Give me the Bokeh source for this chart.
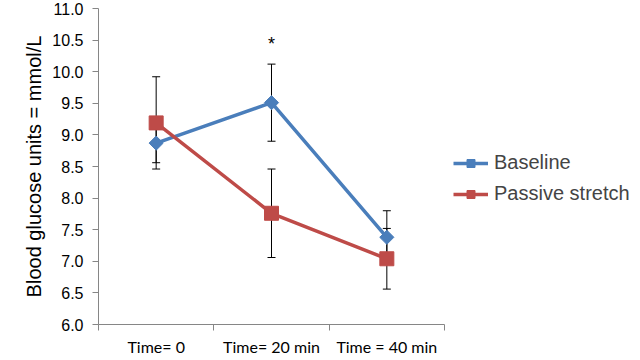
import math
from bokeh.plotting import figure
from bokeh.models import (FixedTicker, Range1d, Whisker, ColumnDataSource, Legend,
                          LegendItem, TeeHead, NumeralTickFormatter)
from bokeh.core.properties import value
from bokeh.embed import file_html
from bokeh.resources import INLINE

categories = ["Time= 0", "Time= 20 min", "Time = 40 min"]
baseline = [8.87, 9.51, 7.38]
baseline_err = [0.31, 0.61, 0.42]
passive = [9.19, 7.76, 7.04]
passive_err = [0.73, 0.70, 0.48]
y_ticks = [6.0, 6.5, 7.0, 7.5, 8.0, 8.5, 9.0, 9.5, 10.0, 10.5, 11.0]
star_pos = (1, 10.44)

xc = [i + 0.5 for i in range(len(categories))]
BLUE = "#4A7EBB"
RED = "#BE4B48"
GRAY = "#868686"
n = len(categories)

p = figure(width=640, height=360, output_backend="svg", toolbar_location=None,
           x_range=Range1d(0, n * 542 / 346), y_range=Range1d(y_ticks[0], y_ticks[-1]),
           min_border_left=98, min_border_right=0, min_border_top=8, min_border_bottom=36)
p.outline_line_color = None
p.xgrid.visible = False
p.ygrid.visible = False

def src(vals, errs):
    return ColumnDataSource(dict(x=xc, y=vals,
                                 lo=[v - e for v, e in zip(vals, errs)],
                                 hi=[v + e for v, e in zip(vals, errs)]))

sb = src(baseline, baseline_err)
sp = src(passive, passive_err)

for s in (sb, sp):
    w = Whisker(source=s, base="x", upper="hi", lower="lo", line_color="black", line_width=1,
                upper_head=TeeHead(size=8, line_color="black", line_width=1),
                lower_head=TeeHead(size=8, line_color="black", line_width=1))
    p.add_layout(w)

lb = p.line("x", "y", source=sb, line_color=BLUE, line_width=3.5)
mb = p.scatter("x", "y", source=sb, marker="square", angle=math.pi / 4, size=10,
               fill_color=BLUE, line_color=BLUE)
lp = p.line("x", "y", source=sp, line_color=RED, line_width=3.5)
mp = p.scatter("x", "y", source=sp, marker="square", size=14, fill_color=RED, line_color=RED)

p.text(x=[xc[star_pos[0]]], y=[star_pos[1]], text=["*"], text_align="center",
       text_baseline="alphabetic", text_font=value("Liberation Sans"),
       text_font_size="18px", text_color="black")

legend = Legend(items=[LegendItem(label="Baseline", renderers=[lb, mb]),
                       LegendItem(label="Passive stretch", renderers=[lp, mp])],
                location=(355, 119), border_line_color=None, background_fill_alpha=0,
                label_text_font="Liberation Sans", label_text_font_size="20px",
                glyph_width=35, glyph_height=20, label_height=20, label_standoff=6,
                spacing=8, padding=0, margin=0)
p.add_layout(legend)

p.yaxis.ticker = FixedTicker(ticks=y_ticks)
p.yaxis.formatter = NumeralTickFormatter(format="0.0")
p.yaxis.axis_line_color = GRAY
p.yaxis.major_tick_line_color = GRAY
p.yaxis.major_tick_out = 6
p.yaxis.major_tick_in = 0
p.yaxis.minor_tick_line_color = None
p.yaxis.major_label_text_font = "Liberation Sans"
p.yaxis.major_label_text_font_size = "16px"
p.yaxis.major_label_text_color = "black"
p.yaxis.major_label_standoff = 9
p.yaxis.axis_label = "Blood glucose units = mmol/L"
p.yaxis.axis_label_text_font = "Liberation Sans"
p.yaxis.axis_label_text_font_size = "20px"
p.yaxis.axis_label_text_font_style = "normal"
p.yaxis.axis_label_text_color = "black"
p.yaxis.axis_label_standoff = 4

p.xaxis.bounds = (0, n)
p.xaxis.ticker = FixedTicker(ticks=xc, minor_ticks=list(range(n + 1)))
p.xaxis.major_label_overrides = {x: c for x, c in zip(xc, categories)}
p.xaxis.axis_line_color = GRAY
p.xaxis.major_tick_line_color = None
p.xaxis.major_tick_out = 0
p.xaxis.major_tick_in = 0
p.xaxis.minor_tick_line_color = GRAY
p.xaxis.minor_tick_out = 6
p.xaxis.minor_tick_in = 0
p.xaxis.major_label_text_font = "Lato"
p.xaxis.major_label_text_font_size = "16px"
p.xaxis.major_label_text_color = "black"
p.xaxis.major_label_standoff = 6

open("out.html", "w").write(file_html(p, INLINE))
